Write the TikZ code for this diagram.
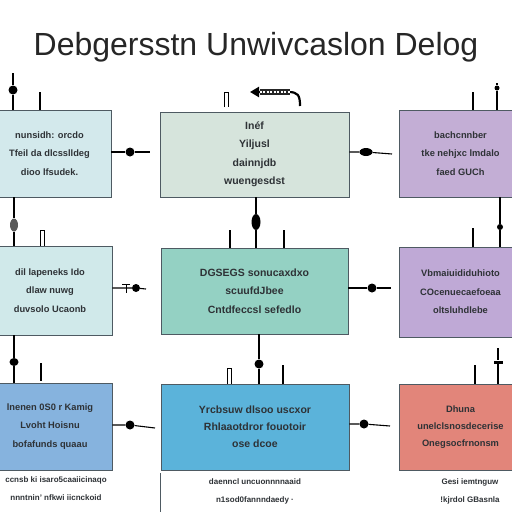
\documentclass[tikz,border=0pt]{standalone}
\usepackage{fontspec}
\setmainfont{Liberation Sans}
\usetikzlibrary{arrows.meta,shapes.geometric}
\definecolor{boxline}{HTML}{4E5A62}
\definecolor{txt}{HTML}{2E3236}
\definecolor{paleblue}{HTML}{D3E9EC}
\definecolor{palegreen}{HTML}{D6E4DC}
\definecolor{lilac}{HTML}{C3AED5}
\definecolor{palecyan}{HTML}{D0E9EA}
\definecolor{teal}{HTML}{94D1C3}
\definecolor{lilacdark}{HTML}{BFA9D6}
\definecolor{midblue}{HTML}{86B3DE}
\definecolor{skyblue}{HTML}{5BB3DA}
\definecolor{salmon}{HTML}{E2857A}
\begin{document}
\begin{tikzpicture}[x=1pt, y=-1pt,
  box/.style={draw=boxline, line width=0.9pt, minimum width=#1, minimum height=87pt,
    align=center, inner sep=0pt, text=txt,
    font=\fontsize{10.5}{18.5}\selectfont\bfseries},
  sidebox/.style={box=#1, font=\fontsize{9.3}{18.5}\selectfont\bfseries},
  note/.style={text=txt, align=center, font=\fontsize{8}{18}\selectfont\bfseries},
  conn/.style={draw=black, line width=1.1pt},
  dot/.style={circle, fill=black, inner sep=0pt, minimum size=9pt},
  blob/.style={ellipse, fill=#1, inner sep=0pt, minimum width=8pt, minimum height=13pt},
  tick/.style={draw=black, line width=1.3pt}]
  \clip (0,0) rectangle (512,512);
  \fill[white] (0,0) rectangle (512,512);

  % title
  \node[font=\fontsize{32}{34}\selectfont, text=black!85] (title) at (256,47) {Debgersstn Unwivcaslon Delog};

  % boxes, row by row
  \node[sidebox=123pt, fill=paleblue] (l1) at (49.5,153.5) {nunsidh: orcdo\\Tfeil da dlcsslldeg\\dioo lfsudek.};
  \node[box=189pt, minimum height=85pt, fill=palegreen] (m1) at (254.5,154.5) {Inéf\\Yiljusl\\dainnjdb\\wuengesdst};
  \node[sidebox=123pt, fill=lilac] (r1) at (460.5,153.5) {bachcnnber\\tke nehjxc lmdalo\\faed GUCh};

  \node[sidebox=124pt, minimum height=89pt, fill=palecyan] (l2) at (50,290.5) {dil lapeneks Ido\\dlaw nuwg\\duvsolo Ucaonb};
  \node[box=187pt, minimum height=86pt, fill=teal] (m2) at (254.5,291) {DGSEGS sonucaxdxo\\scuufdJbee\\Cntdfeccsl sefedlo};
  \node[sidebox=123pt, minimum height=90pt, fill=lilacdark] (r2) at (460.5,292) {Vbmaiuididuhioto\\COcenuecaefoeaa\\oltsluhdlebe};

  \node[sidebox=124pt, fill=midblue] (l3) at (50,426.5) {lnenen 0S0 r Kamig\\Lvoht Hoisnu\\bofafunds quaau};
  \node[box=188pt, minimum height=86pt, fill=skyblue, font=\fontsize{10.5}{17}\selectfont\bfseries] (m3) at (255,427) {Yrcbsuw dlsoo uscxor\\Rhlaaotdror fouotoir\\ose dcoe};
  \node[sidebox=123pt, minimum height=86pt, fill=salmon, font=\fontsize{9.3}{17}\selectfont\bfseries] (r3) at (460.5,427) {Dhuna\\unelclsnosdecerise\\Onegsocfrnonsm};

  % notes under the last row
  \node[note] (n1) at (56,489) {ccnsb ki isaro5caaiicinaqo\\nnntnin' nfkwi iicnckoid};
  \node[note] (n2) at (255,491.5) {daenncl uncuonnnnaaid\\n1sod0fannndaedy ·};
  \node[note] (n3) at (470,491) {Gesi iemtnguw\\!kjrdol GBasnla};
  \coordinate (s1) at (160,473);
  \coordinate (s2) at (160,512);
  \draw[boxline, line width=0.9pt] (s1) -- (s2);

  % horizontal connectors
  \node[dot] (h1) at (130,152) {};
  \coordinate (h1e) at (150,152);
  \draw[conn] (l1.east |- h1) -- (h1) -- (h1e);
  \node[blob=black, rotate=90] (h2) at (366,152) {};
  \coordinate (h2e) at (392,154);
  \draw[conn] (m1.east |- h2) -- (h2) -- (h2e);
  \node[dot, minimum size=8pt] (h3) at (136,288) {};
  \coordinate (h3e) at (146,289);
  \draw[conn] (l2.east |- h3) -- (h3) -- (h3e);
  \draw[tick, line width=0.8pt] (122,284) -- (130,284) (126,284) -- (126,293);
  \node[dot] (h4) at (372,288) {};
  \coordinate (h4e) at (391,288);
  \draw[conn] (m2.east |- h4) -- (h4) -- (h4e);
  \node[dot] (h5) at (130,425) {};
  \coordinate (h5e) at (155,428);
  \draw[conn] (l3.east |- h5) -- (h5) -- (h5e);
  \node[dot] (h6) at (364,424) {};
  \coordinate (h6e) at (390,426);
  \draw[conn] (m3.east |- h6) -- (h6) -- (h6e);

  % vertical connectors, top
  \node[dot] (t1) at (13,90) {};
  \coordinate (t1s) at (13,73);
  \draw[conn] (t1s) -- (t1) -- (l1.north -| t1);
  \node[dot, minimum size=5pt] (t2) at (497,88) {};
  \coordinate (t2s) at (497,83);
  \draw[conn] (t2s) -- (t2) -- (r1.north -| t2);
  \coordinate (a1) at (300,106);
  \coordinate (a2) at (250,92);
  \draw[line width=2.2pt, -{Triangle[length=9pt,width=10pt]}] (a1) .. controls (300,95) and (298,92) .. (288,92) -- (a2);
  \node[fill=black!85, minimum width=30pt, minimum height=6pt, inner sep=0pt] (a3) at (275,92) {};
  \draw[white, line width=1.2pt, dash pattern=on 2pt off 1.5pt] (a3.west) -- (a3.east);

  % vertical connectors, rows 1 to 2
  \node[blob=black!65] (v1) at (14,225) {};
  \draw[conn] (l1.south -| v1) -- (v1) -- (l2.north -| v1);
  \node[blob=black, minimum width=9pt, minimum height=16pt] (v2) at (256,222) {};
  \draw[conn] (m1.south -| v2) -- (v2) -- (m2.north -| v2);
  \node[dot, minimum size=6pt] (v3) at (500,227) {};
  \draw[conn] (r1.south -| v3) -- (v3) -- (r2.north -| v3);

  % vertical connectors, rows 2 to 3
  \node[blob=black, minimum width=9pt, minimum height=8pt] (w1) at (14,362) {};
  \draw[conn] (l2.south -| w1) -- (w1) -- (l3.north -| w1);
  \node[blob=black, minimum width=9pt, minimum height=9pt] (w2) at (259,364) {};
  \draw[conn] (m2.south -| w2) -- (w2) -- (m3.north -| w2);
  \node[fill=black, minimum width=9pt, minimum height=3pt, inner sep=0pt] (w3) at (498,362) {};
  \draw[conn] (498,348) -- (w3) -- (r3.north -| w3);

  % short stubs on the box tops
  \foreach \x/\ya/\yb in {40/92/110, 473/92/110, 230/230/248, 284/230/248,
      473/228/247, 41/363/381, 283/365/384, 475/365/384}
    \draw[tick] (\x,\ya) -- (\x,\yb);
  \foreach \x/\ya/\yb in {226/92/107, 42/230/246, 229/368/384}
    \draw[black, line width=0.6pt, fill=white] (\x-2,\yb) -- (\x-2,\ya) -- (\x+2,\ya) -- (\x+2,\yb);
\end{tikzpicture}
\end{document}
